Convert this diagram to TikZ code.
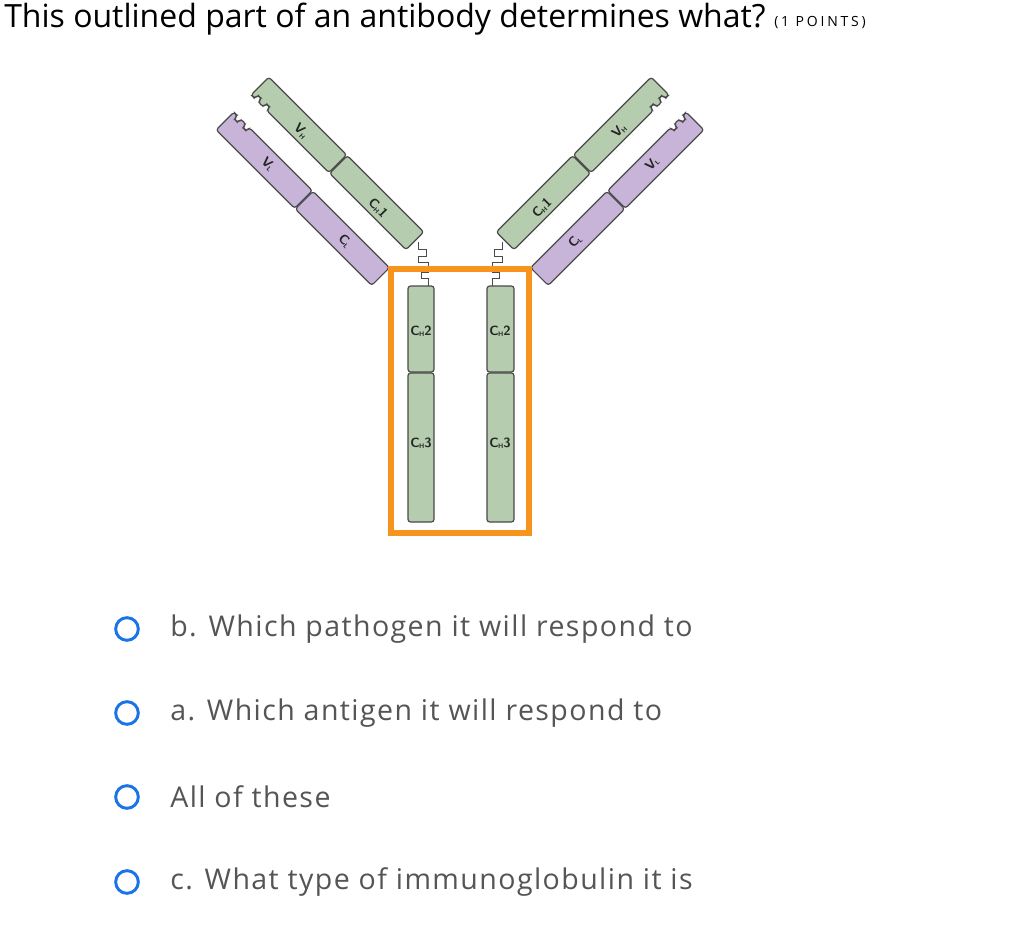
\documentclass[tikz,border=0pt]{standalone}
\usepackage{fontspec}
\setmainfont{Open Sans}
\newfontfamily\optfont[LetterSpace=5]{Open Sans}
\newfontfamily\ptsfont[LetterSpace=20]{Open Sans}
\definecolor{grn}{HTML}{B5CCAE}
\definecolor{prp}{HTML}{C8B3D9}
\definecolor{edge}{HTML}{4A4A4A}
\definecolor{org}{HTML}{F7941D}
\definecolor{blu}{HTML}{1A73E8}
\definecolor{txt}{HTML}{555555}
\tikzset{
 dom/.style={draw=edge,line width=0.9pt,rounded corners=2pt},
 lab/.style={font=\sffamily\bfseries\fontsize{10}{11}\selectfont,text=black!85,inner sep=0},
 hinge/.style={draw=edge,line width=0.7pt},
 radio/.style={circle,draw=blu,line width=2.2pt,minimum size=17pt,inner sep=0},
 opt/.style={anchor=west,text=txt,font=\optfont\fontsize{21.4}{25}\selectfont,inner sep=0}
}
\newcommand{\hv}[2]{{#1}\kern-0.5pt{\fontsize{5}{5}\selectfont\raisebox{-0.4ex}{#2}}}
\newcommand{\armset}{%
 \begin{scope}[shift={(260,86)},rotate=-45]
  \path[dom,fill=grn] (0,-12.5) -- (110,-12.5) -- (110,12.5) -- (22,12.5) -- (22,8) -- (17,8) -- (17,12.5) -- (10,12.5) -- (10,8) -- (5,8) -- (5,12.5) -- (0,12.5) -- cycle;
  \path[dom,fill=grn] (111,-12.5) rectangle (219,12.5);
 \end{scope}
 \begin{scope}[shift={(225,121)},rotate=-45]
  \path[dom,fill=prp] (0,12.5) -- (111,12.5) -- (111,-12.5) -- (22,-12.5) -- (22,-8) -- (17,-8) -- (17,-12.5) -- (10,-12.5) -- (10,-8) -- (5,-8) -- (5,-12.5) -- (0,-12.5) -- cycle;
  \path[dom,fill=prp] (112,-12.5) rectangle (220,12.5);
 \end{scope}
 \draw[hinge] (418,242) -- (418,249) -- (426,249) -- (426,256) -- (418,256) -- (418,262) -- (428,262) -- (428,272) -- (421,272) -- (421,278) -- (428,278) -- (428,286);
}
\begin{document}
\begin{tikzpicture}[x=0.75pt,y=-0.75pt]
\useasboundingbox (0,0) rectangle (1024,928);
\fill[white] (0,0) rectangle (1024,928);
\node[anchor=west,inner sep=0,font=\fontsize{24}{28}\selectfont] (title) at (4,19) {This outlined part of an antibody determines what?};
\node[anchor=west,inner sep=0,font=\ptsfont\fontsize{10.5}{12}\selectfont] (pts) at (774,23) {(1 POINTS)};
\armset
\begin{scope}[shift={(920,0)},xscale=-1]
\armset
\end{scope}
\node[lab,rotate=-45] (vh) at (301,131) {\hv{V}{H}};
\node[lab,rotate=-45] (ch1) at (378,208) {\hv{C}{H}1};
\node[lab,rotate=-45] (vl) at (268,164) {\hv{V}{L}};
\node[lab,rotate=-45] (cl) at (345,241) {\hv{C}{L}};
\node[lab,rotate=45] (vh2) at (619,131) {\hv{V}{H}};
\node[lab,rotate=45] (ch12) at (542,208) {\hv{C}{H}1};
\node[lab,rotate=45] (vl2) at (652,164) {\hv{V}{L}};
\node[lab,rotate=45] (cl2) at (575,241) {\hv{C}{L}};
\path[dom,fill=grn] (408,286) rectangle (434,372);
\path[dom,fill=grn] (408,373) rectangle (434,522);
\path[dom,fill=grn] (487,286) rectangle (514,372);
\path[dom,fill=grn] (487,373) rectangle (514,522);
\node[lab] (c2a) at (421,331) {\hv{C}{H}2};
\node[lab] (c3a) at (421,443) {\hv{C}{H}3};
\node[lab] (c2b) at (500,331) {\hv{C}{H}2};
\node[lab] (c3b) at (500,443) {\hv{C}{H}3};
\draw[org,line width=3.8pt] (391,269) rectangle (529,533);
\node[radio] (r1) at (127,629) {};
\node[opt] (o1) at (170,629) {b. Which pathogen it will respond to};
\node[radio] (r2) at (127,713) {};
\node[opt] (o2) at (170,713) {a. Which antigen it will respond to};
\node[radio] (r3) at (127,797) {};
\node[opt] (o3) at (170,797) {All of these};
\node[radio] (r4) at (127,882) {};
\node[opt] (o4) at (170,882) {c. What type of immunoglobulin it is};
\end{tikzpicture}
\end{document}
